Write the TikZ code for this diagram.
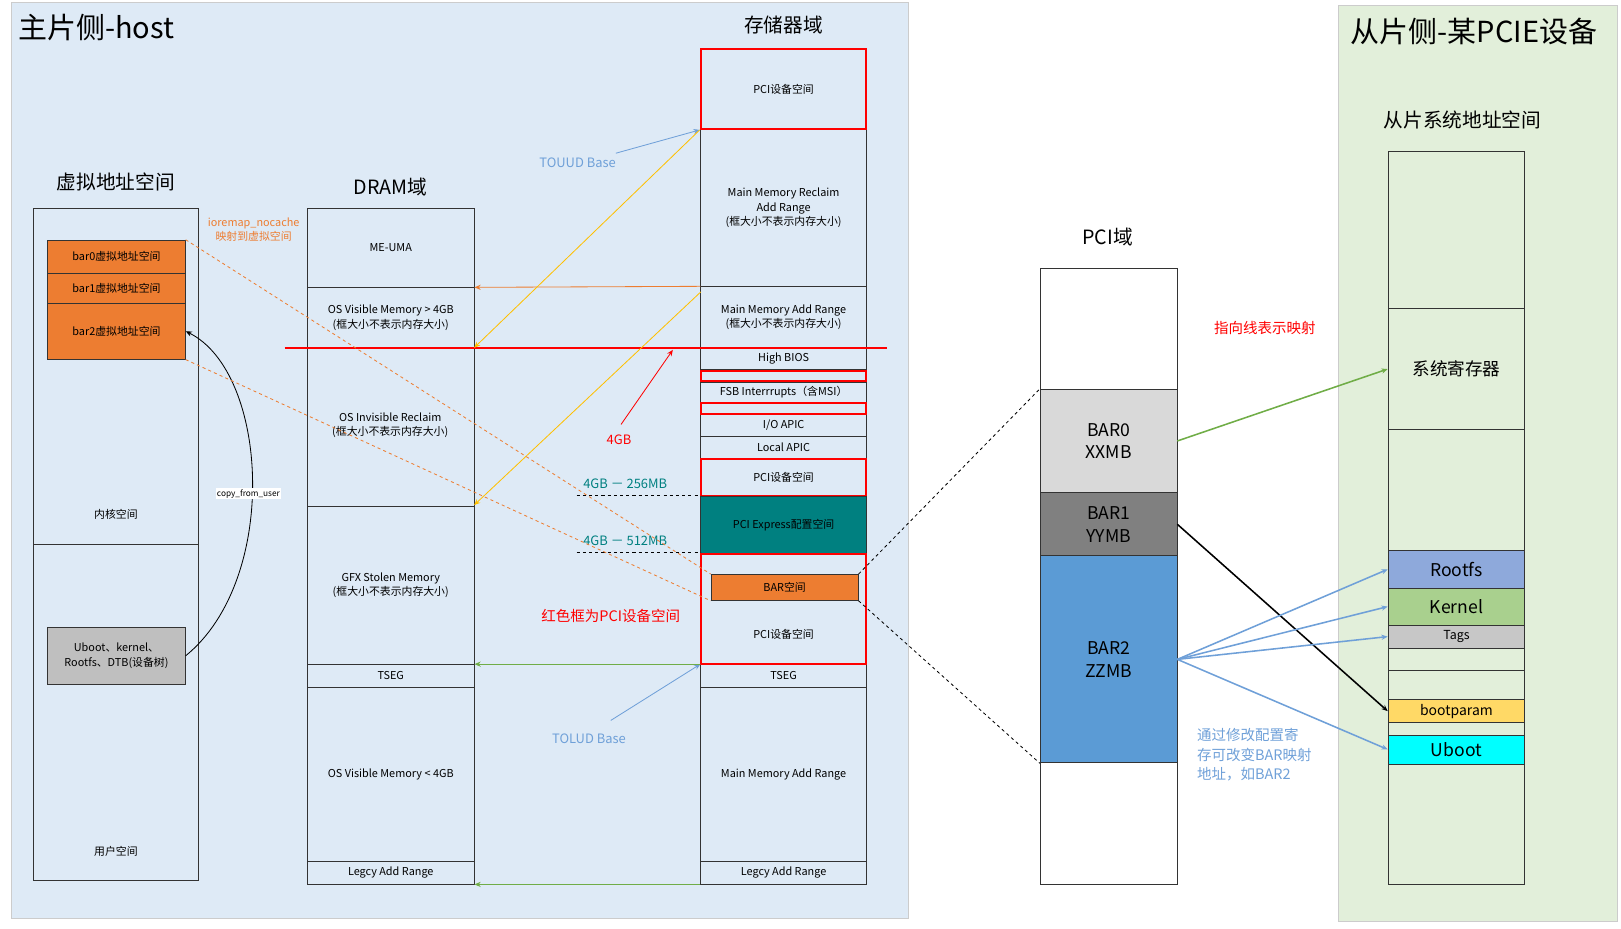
\documentclass[tikz,border=0pt]{standalone}
\usepackage{fontspec}
\setmainfont{Noto Sans CJK SC}
\usetikzlibrary{arrows.meta}
\definecolor{pblue}{HTML}{DEEAF6}
\definecolor{pgreen}{HTML}{E2EFDA}
\definecolor{orng}{HTML}{ED7D31}
\definecolor{teal2}{HTML}{008080}
\definecolor{lblue}{HTML}{6FA0D8}
\definecolor{gold}{HTML}{FFC000}
\definecolor{grn}{HTML}{70AD47}
\definecolor{cyn}{HTML}{00FFFF}
\tikzset{x=1pt,y=-1pt,
 cell/.style={draw=black!80,line width=0.8pt},
 redb/.style={draw=red,line width=2pt},
 lbl/.style={font=\fontsize{10.5}{14}\selectfont,align=center},
 big/.style={font=\fontsize{17}{22}\selectfont,align=center},
 ttl/.style={font=\fontsize{19}{22}\selectfont},
 arr/.style={-{Stealth[length=6pt,width=5pt]},line width=0.8pt}}
\begin{document}
\begin{tikzpicture}
\useasboundingbox (0,0) rectangle (1566,897);
% panels
\draw[black!20,fill=pblue] (11,2) rectangle (877,887);
\draw[black!20,fill=pgreen] (1293,5) rectangle (1562,890);
\node[anchor=west,font=\fontsize{28}{32}\selectfont] (t1) at (14,27) {主片侧-host};
\node[font=\fontsize{28}{32}\selectfont] (t2) at (1424,30) {从片侧-某PCIE设备};
\node[ttl] (t3) at (1413,116) {从片系统地址空间};
\node[ttl] (t4) at (112,176) {虚拟地址空间};
\node[ttl] (t5) at (377,181) {DRAM域};
\node[ttl] (t6) at (757,24) {存储器域};
\node[ttl] (t7) at (1070,229) {PCI域};
% virtual
\draw[cell] (32,201) rectangle (192,851);
\draw[cell] (32,526) -- (192,526);
\node[cell,fill=orng,minimum width=133pt,minimum height=32pt,lbl] (b0) at (112.5,248) {bar0虚拟地址空间};
\node[cell,fill=orng,minimum width=133pt,minimum height=29pt,lbl] (b1) at (112.5,278.5) {bar1虚拟地址空间};
\node[cell,fill=orng,minimum width=133pt,minimum height=54pt,lbl] (b2) at (112.5,320) {bar2虚拟地址空间};
\node[lbl] (ks) at (112,497) {内核空间};
\node[lbl] (us) at (112,822) {用户空间};
\node[cell,fill=black!25,minimum width=133pt,minimum height=55pt,lbl] (ub) at (112.5,633.5) {Uboot、kernel、\\Rootfs、DTB(设备树)};
\draw[arr] (ub.east) .. controls (270,560) and (260,360) .. (b2.east);
\node[fill=white,inner sep=1pt,font=\fontsize{8}{9}\selectfont] (cfu) at (240,477) {copy\_from\_user};
\node[lbl,text=orng] (iom) at (245,222) {ioremap\_nocache\\映射到虚拟空间};
% DRAM
\foreach \a/\b/\t [count=\i] in {201/278/ME-UMA,278/336/{OS Visible Memory > 4GB\\(框大小不表示内存大小)},336/489/{},489/642/{GFX Stolen Memory\\(框大小不表示内存大小)},642/664/TSEG,664/832/{OS Visible Memory < 4GB},832/854/Legcy Add Range}
 \node[cell,lbl,minimum width=161pt,minimum height={\b-\a},inner sep=0pt] (d\i) at (377.5,{(\a+\b)/2}) {\t};
\node[lbl] (d3t) at (377,411) {OS Invisible Reclaim\\(框大小不表示内存大小)};
% storage
\foreach \a/\b/\t [count=\i] in {125/277/{Main Memory Reclaim\\Add Range\\(框大小不表示内存大小)},277/336/{Main Memory Add Range\\(框大小不表示内存大小)},336/357/High BIOS,357/369/{},369/389/{FSB Interrrupts（含MSI）},389/400/{},400/422/{I\slash O APIC},422/443/Local APIC,642/664/TSEG,664/832/Main Memory Add Range,832/854/Legcy Add Range}
 \node[cell,lbl,minimum width=160pt,minimum height={\b-\a},inner sep=0pt] (s\i) at (757,{(\a+\b)/2}) {\t};
\node[redb,lbl,minimum width=160pt,minimum height=77pt,inner sep=0pt] (sp1) at (757,86) {PCI设备空间};
\node[redb,minimum width=160pt,minimum height=10pt,inner sep=0pt] (r1) at (757,363) {};
\node[redb,minimum width=160pt,minimum height=10pt,inner sep=0pt] (r2) at (757,394.5) {};
\node[redb,lbl,minimum width=160pt,minimum height=36pt,inner sep=0pt] (sp2) at (757,461.5) {PCI设备空间};
\node[cell,fill=teal2,lbl,minimum width=160pt,minimum height=55pt,inner sep=0pt] (pce) at (757,507.5) {PCI Express配置空间};
\node[redb,minimum width=160pt,minimum height=106pt,inner sep=0pt] (sp3) at (757,588.5) {};
\node[lbl] (sp3t) at (757,613) {PCI设备空间};
\node[cell,fill=orng,lbl,minimum width=142pt,minimum height=25pt,inner sep=0pt] (bar) at (758,567.5) {BAR空间};
% red line
\draw[red,line width=1.6pt] (275,336) -- (857,336);
% dashed
\coordinate (k1) at (557,479); \coordinate (k2) at (557,534);
\draw[dashed,line width=1pt] (k1) -- (677,479);
\draw[dashed,line width=1pt] (k2) -- (677,534);
\node[lbl,text=teal2,font=\fontsize{12.5}{14}\selectfont] (m1) at (604,467) {4GB － 256MB};
\node[lbl,text=teal2,font=\fontsize{12.5}{14}\selectfont] (m2) at (604,522) {4GB － 512MB};
\node[lbl,text=red,font=\fontsize{12.5}{14}\selectfont] (g4) at (598,425) {4GB};
\coordinate (g4e) at (650,338);
\draw[arr,red] (600,410) -- (g4e);
\node[lbl,text=red,font=\fontsize{14}{16}\selectfont] (rk) at (590,595) {红色框为PCI设备空间};
\node[lbl,text=lblue,font=\fontsize{12.5}{14}\selectfont] (tou) at (558,157) {TOUUD Base};
\node[lbl,text=lblue,font=\fontsize{12.5}{14}\selectfont] (tol) at (569,714) {TOLUD Base};
\draw[arr,lblue] (595,148) -- (sp1.south west);
\draw[arr,lblue] (590,696) -- (s9.north west);
% mapping arrows
\draw[arr,orng] (s2.north west) -- (d2.north east);
\draw[arr,gold] (sp1.south west) -- (458,336);
\draw[arr,gold] (677,282) -- (458,488);
\draw[arr,grn] (s9.north west) -- (d5.north east);
\draw[arr,grn] (s11.south west) -- (d7.south east);
\draw[dashed,orng,line width=0.8pt] (b0.north east) -- (bar.north west);
\draw[dashed,orng,line width=0.8pt] (b2.south east) -- (bar.south west);
% PCI domain
\node[cell,fill=white,minimum width=132pt,minimum height=117pt,inner sep=0pt] (p1) at (1071,317.5) {};
\node[cell,fill=black!15,big,minimum width=132pt,minimum height=100pt,inner sep=0pt] (p2) at (1071,426) {BAR0\\XXMB};
\node[cell,fill=black!50,big,minimum width=132pt,minimum height=61pt,inner sep=0pt] (p3) at (1071,506.5) {BAR1\\YYMB};
\node[cell,fill={rgb,255:red,91;green,155;blue,213},big,minimum width=132pt,minimum height=200pt,inner sep=0pt] (p4) at (1071,637) {BAR2\\ZZMB};
\node[cell,fill=white,minimum width=132pt,minimum height=117pt,inner sep=0pt] (p5) at (1071,795.5) {};
\draw[dashed,line width=0.8pt] (bar.north east) -- (p2.north west);
\draw[dashed,line width=0.8pt] (bar.south east) -- (p4.south west);
\node[lbl,text=red,font=\fontsize{14}{16}\selectfont] (zx) at (1222,317) {指向线表示映射};
\node[lbl,text=lblue,font=\fontsize{14}{19}\selectfont,align=left,anchor=north west] (tg) at (1153,700) {通过修改配置寄\\存可改变BAR映射\\地址，如BAR2};
% slave column
\foreach \a/\b/\t/\c [count=\i] in {146/298/{}/pgreen,298/415/系统寄存器/pgreen,415/532/{}/pgreen,532/568/Rootfs/{rgb,255:red,142;green,169;blue,219},568/604/Kernel/{rgb,255:red,169;green,208;blue,142},604/626/Tags/black!22,626/648/{}/pgreen,648/676/{}/pgreen,676/698/bootparam/{rgb,255:red,255;green,217;blue,102},698/710/{}/pgreen,710/738/Uboot/cyn,738/854/{}/pgreen}
 \node[cell,fill=\c,minimum width=132pt,minimum height={\b-\a},inner sep=0pt,font=\fontsize{\ifnum\i=6 12\else\ifnum\i=9 13.5\else 17\fi\fi}{17}\selectfont] (q\i) at (1407,{(\a+\b)/2}) {\t};
\draw[arr,grn,line width=1.5pt] (p2.east) -- (q2.west);
\draw[arr,black,line width=1.5pt] (p3.east) -- (q9.west);
\foreach \j in {4,5,6,11} \draw[arr,lblue,line width=1.5pt] (p4.east) -- (q\j.west);
\end{tikzpicture}
\end{document}
